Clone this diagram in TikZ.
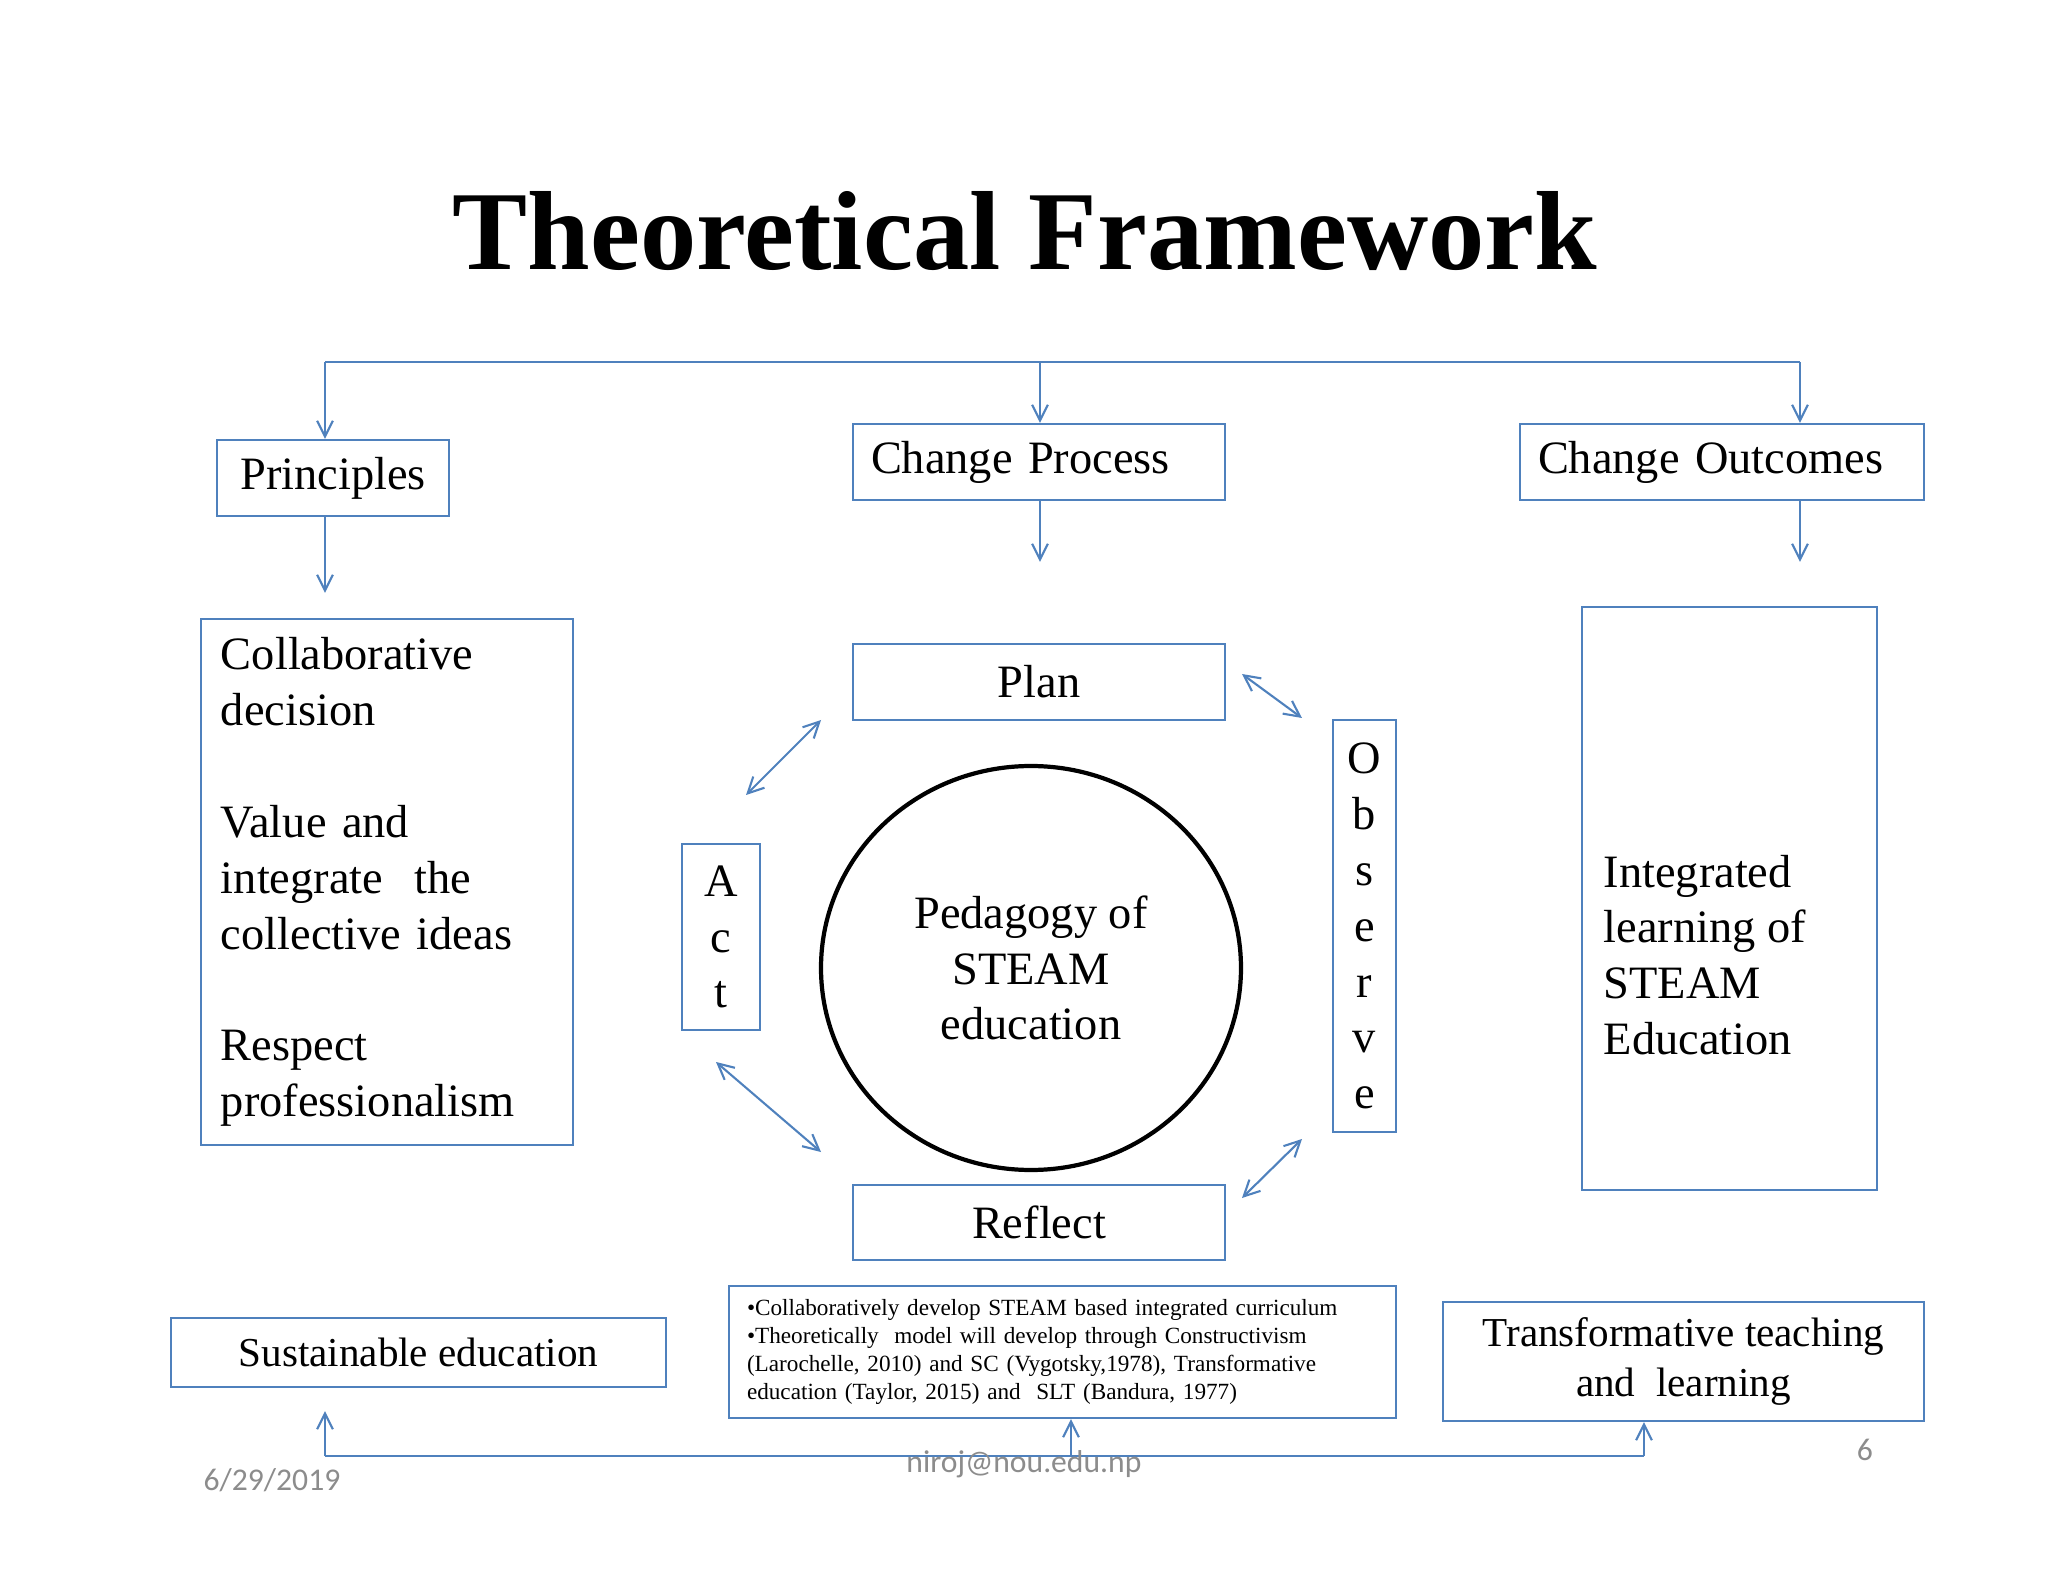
\documentclass[tikz,border=0pt]{standalone}
\usepackage{fontspec}
\setmainfont{Liberation Serif}
\newfontfamily\footfont{Carlito}
\usepackage{xcolor}
\definecolor{frameblue}{HTML}{4F81BD}
\definecolor{footgray}{HTML}{8C8C8C}
\usepackage{tikz}
\usetikzlibrary{arrows.meta, shapes.geometric, positioning, calc}

\tikzset{
  box/.style={draw=frameblue, line width=0.6pt, inner sep=0pt, font=\fontsize{13.2}{15.9}\selectfont},
  leftbox/.style={box, inner xsep=0.18cm, align=left},
  link/.style={frameblue, line width=0.6pt},
  arr/.style={link, -{Straight Barb[length=4.5pt,width=4.5pt]}},
  twoway/.style={link, {Straight Barb[length=4.5pt,width=4.5pt]}-{Straight Barb[length=4.5pt,width=4.5pt]}},
  foot/.style={font=\footfont\fontsize{9}{11}\selectfont, text=footgray, inner sep=0pt}
}

\begin{document}
\begin{tikzpicture}
  \useasboundingbox (0,0) rectangle (20.48,-15.82);

  % titel
  \node[anchor=base, inner sep=0pt, font=\fontsize{32}{38}\selectfont\bfseries] (title) at (10.25,-2.70) {Theoretical Framework};

  % kopjes bovenaan
  \node[box, minimum width=2.32cm, minimum height=0.76cm] (princ) at (3.33,-4.78) {Principles};
  \node[leftbox, text width=3.36cm, minimum height=0.76cm] (proc) at (10.39,-4.62) {Change Process};
  \node[leftbox, text width=3.68cm, minimum height=0.76cm] (outc) at (17.22,-4.62) {Change Outcomes};

  % verdeellijn bovenaan
  \coordinate (tl) at (3.25,-3.62);
  \coordinate (tm) at (10.40,-3.62);
  \coordinate (tr) at (18.00,-3.62);
  \draw[link] (tl) -- (tr);
  \draw[arr] (tl) -- (tl |- princ.north);
  \draw[arr] (tm) -- (tm |- proc.north);
  \draw[arr] (tr) -- (tr |- outc.north);

  % principes
  \node[leftbox, inner xsep=0.2cm, text width=3.32cm, minimum height=5.26cm] (ideas) at (3.87,-8.82)
    {Collaborative\\decision\\[15.9pt]Value and\\integrate\ \ the\\collective ideas\\[15.9pt]Respect\\professionalism};

  % cyclus rond de cirkel
  \node[box, minimum width=3.72cm, minimum height=0.76cm] (plan) at (10.39,-6.82) {Plan};
  \node[box, minimum width=3.72cm, minimum height=0.75cm] (reflect) at (10.39,-12.225) {Reflect};
  \node[box, minimum width=0.78cm, minimum height=1.86cm, align=center] (act) at (7.21,-9.37) {A\\c\\t};
  \node[box, minimum width=0.63cm, minimum height=4.12cm, align=center] (observe) at (13.645,-9.26) {O\\b\\s\\e\\r\\v\\e};
  \node[ellipse, draw=black, line width=1.2pt, minimum width=4.20cm, minimum height=4.04cm, align=center,
        font=\fontsize{13.2}{15.9}\selectfont] (core) at (10.31,-9.68) {Pedagogy of\\STEAM\\education};

  \coordinate (po1) at (12.42,-6.74);  \coordinate (po2) at (13.02,-7.18);
  \coordinate (ap1) at (7.46,-7.95);   \coordinate (ap2) at (8.21,-7.20);
  \coordinate (ar1) at (7.16,-10.62);  \coordinate (ar2) at (8.21,-11.52);
  \coordinate (ro1) at (12.42,-11.98); \coordinate (ro2) at (13.02,-11.39);
  \draw[twoway] (po1) -- (po2);
  \draw[twoway] (ap1) -- (ap2);
  \draw[twoway] (ar1) -- (ar2);
  \draw[twoway] (ro1) -- (ro2);

  % uitkomst
  \node[box, minimum width=2.95cm, minimum height=5.83cm] (outbox) at (17.295,-8.985) {};
  \node[anchor=west, inner sep=0pt, align=left, font=\fontsize{13.2}{15.9}\selectfont] (outtext) at (16.03,-9.55)
    {Integrated\\learning of\\STEAM\\Education};

  % pijlen naar beneden
  \draw[arr, shorten >=0.25cm] (princ.south -| tl) -- (tl |- ideas.north);
  \draw[arr, shorten >=0.81cm] (proc.south -| tm) -- (tm |- plan.north);
  \draw[arr, shorten >=0.44cm] (outc.south -| tr) -- (tr |- outbox.north);

  % onderste rij
  \node[box, minimum width=4.95cm, minimum height=0.69cm, font=\fontsize{11.7}{14.2}\selectfont] (sust) at (4.185,-13.525) {Sustainable education};
  \node[leftbox, text width=6.31cm, minimum height=1.32cm, font=\fontsize{6.6}{7.95}\selectfont] (note) at (10.625,-13.52)
    {•Collaboratively develop STEAM based integrated curriculum\\
     •Theoretically\ \ model will develop through Constructivism\\
     (Larochelle, 2010) and SC (Vygotsky,1978), Transformative\\
     education (Taylor, 2015) and\ \ SLT (Bandura, 1977)};
  \node[box, minimum width=4.81cm, minimum height=1.19cm, align=center, font=\fontsize{11.7}{14.2}\selectfont] (trans) at (16.835,-13.615)
    {Transformative teaching\\and\ \ learning};

  % verzamellijn onderaan
  \coordinate (bl) at (3.25,-14.56);
  \coordinate (bm) at (10.71,-14.56);
  \coordinate (br) at (16.44,-14.56);
  \draw[link] (bl) -- (br);
  \draw[arr, shorten >=0.23cm] (bl) -- (bl |- sust.south);
  \draw[arr] (bm) -- (bm |- note.south);
  \draw[arr] (br) -- (br |- trans.south);

  % voettekst
  \node[foot] (date) at (2.72,-14.80) {6/29/2019};
  \node[foot] (mail) at (10.24,-14.64) {niroj@nou.edu.np};
  \node[foot] (page) at (18.65,-14.50) {6};
\end{tikzpicture}
\end{document}
